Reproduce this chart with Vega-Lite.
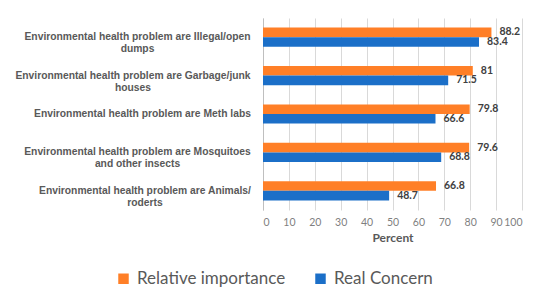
{
  "$schema": "https://vega.github.io/schema/vega-lite/v6.json",
  "width": 259,
  "height": 192,
  "autosize": "none",
  "padding": {"left": 263, "top": 18, "right": 28, "bottom": 97},
  "background": "white",
  "data": {
    "values": [
      {"category": "Environmental health problem are Illegal/open|dumps", "series": "Relative importance", "value": 88.2},
      {"category": "Environmental health problem are Illegal/open|dumps", "series": "Real Concern", "value": 83.4},
      {"category": "Environmental health problem are Garbage/junk|houses", "series": "Relative importance", "value": 81},
      {"category": "Environmental health problem are Garbage/junk|houses", "series": "Real Concern", "value": 71.5},
      {"category": "Environmental health problem are Meth labs", "series": "Relative importance", "value": 79.8},
      {"category": "Environmental health problem are Meth labs", "series": "Real Concern", "value": 66.6},
      {"category": "Environmental health problem are Mosquitoes|and other insects", "series": "Relative importance", "value": 79.6},
      {"category": "Environmental health problem are Mosquitoes|and other insects", "series": "Real Concern", "value": 68.8},
      {"category": "Environmental health problem are Animals/|roderts", "series": "Relative importance", "value": 66.8},
      {"category": "Environmental health problem are Animals/|roderts", "series": "Real Concern", "value": 48.7}
    ]
  },
  "encoding": {
    "y": {
      "field": "category",
      "type": "nominal",
      "sort": null,
      "scale": {"paddingInner": 0.5, "paddingOuter": 0.25},
      "axis": {
        "title": null,
        "labelExpr": "split(datum.value, '|')",
        "labelFont": "Liberation Sans",
        "labelFontSize": 10.3,
        "labelFontWeight": "bold",
        "labelColor": "#595959",
        "labelLimit": 400,
        "labelAlign": "center",
        "labelBaseline": "middle",
        "labelLineHeight": 12,
        "ticks": false,
        "tickSize": 0,
        "labelPadding": {
          "condition": [
            {"test": "indexof(datum.value, 'Illegal') >= 0", "value": 126},
            {"test": "indexof(datum.value, 'Garbage') >= 0", "value": 130.5},
            {"test": "indexof(datum.value, 'Meth') >= 0", "value": 121},
            {"test": "indexof(datum.value, 'Mosquitoes') >= 0", "value": 126}
          ],
          "value": 118.5
        },
        "domainColor": "#bfbfbf",
        "grid": false
      }
    },
    "yOffset": {
      "field": "series",
      "type": "nominal",
      "sort": ["Relative importance", "Real Concern"]
    },
    "x": {
      "field": "value",
      "type": "quantitative",
      "scale": {"domain": [0, 100], "nice": false},
      "axis": {
        "title": "Percent",
        "values": [0, 10, 20, 30, 40, 50, 60, 70, 80, 90, 100],
        "domain": false,
        "ticks": false,
        "grid": true,
        "gridColor": "#d9d9d9",
        "labelFont": "Lato",
        "labelFontSize": 10.5,
        "labelColor": "#7f7f7f",
        "labelPadding": 7,
        "titleFont": "Lato",
        "titleFontSize": 12,
        "titleFontWeight": "bold",
        "titleColor": "#595959",
        "titlePadding": 5
      }
    }
  },
  "layer": [
    {
      "mark": {"type": "bar"},
      "encoding": {
        "color": {
          "field": "series",
          "type": "nominal",
          "scale": {"domain": ["Relative importance", "Real Concern"], "range": ["#FF7F27", "#1B6FC8"]},
          "legend": {
            "title": null,
            "orient": "none",
            "direction": "horizontal",
            "legendX": -148,
            "legendY": 252,
            "symbolType": "square",
            "symbolSize": 110,
            "symbolStrokeWidth": 0,
            "labelFont": "Lato",
            "labelFontSize": 17,
            "labelColor": "#595959",
            "columnPadding": 26,
            "labelOffset": 5
          }
        }
      }
    },
    {
      "mark": {"type": "text", "align": "left", "baseline": "middle", "dx": 8, "font": "Lato", "fontSize": 10.5, "fontWeight": "bold", "color": "#404040"},
      "encoding": {"text": {"field": "value", "type": "quantitative"}}
    }
  ],
  "config": {"view": {"stroke": null}}
}
